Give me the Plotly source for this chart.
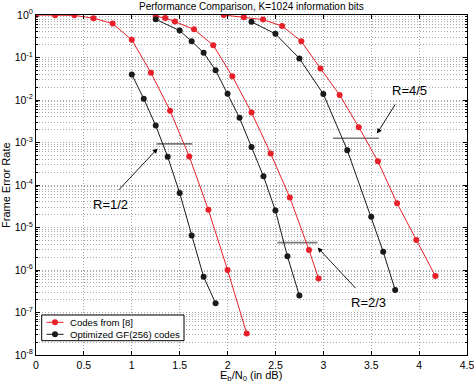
import plotly.graph_objects as go

# ---- data ----
red_half_x = [0.0, 0.2, 0.4, 0.6, 0.8, 1.0, 1.2, 1.4, 1.6, 1.8, 2.0, 2.2]
red_half_y = [1.0, 0.99, 0.98, 0.84, 0.63, 0.26, 0.044, 5.6e-3, 4.7e-4, 2.6e-5, 1.0e-6, 3.2e-8]

blk_half_x = [1.0, 1.125, 1.25, 1.375, 1.5, 1.625, 1.75, 1.875]
blk_half_y = [0.04, 0.0107, 2.5e-3, 4.6e-4, 6.5e-5, 6.5e-6, 6.9e-7, 1.66e-7]

red_23_x = [1.25, 1.35, 1.45, 1.65, 1.85, 2.05, 2.25, 2.45, 2.65, 2.85, 2.95]
red_23_y = [0.93, 0.85, 0.70, 0.46, 0.195, 0.036, 5.1e-3, 5.5e-4, 5.1e-5, 2.95e-6, 6.3e-7]

blk_23_x = [1.25, 1.5, 1.625, 1.75, 1.875, 2.0, 2.125, 2.25, 2.375, 2.5, 2.625, 2.75]
blk_23_y = [0.79, 0.43, 0.24, 0.13, 0.05, 0.014, 3.8e-3, 7.8e-4, 1.6e-4, 2.5e-5, 2.1e-6, 2.5e-7]

red_45_x = [1.96, 2.17, 2.37, 2.57, 2.77, 2.97, 3.17, 3.37, 3.57, 3.77, 3.97, 4.17]
red_45_y = [1.0, 0.89, 0.78, 0.55, 0.24, 0.055, 0.0132, 2.3e-3, 3.6e-4, 3.7e-5, 5.1e-6, 7.2e-7]

blk_45_x = [2.25, 2.5, 2.75, 3.0, 3.25, 3.5, 3.625, 3.75]
blk_45_y = [0.69, 0.36, 0.095, 0.0138, 6.6e-4, 1.8e-5, 2.7e-6, 3.4e-7]

# rate marker bars (horizontal gray segments)
bar_half_x = [1.26, 1.63]
bar_half_y = [9.3e-4, 9.3e-4]
bar_23_x = [2.52, 2.94]
bar_23_y = [4.4e-6, 4.4e-6]
bar_45_x = [3.10, 3.58]
bar_45_y = [1.26e-3, 1.26e-3]

rate_labels = ["R=1/2", "R=2/3", "R=4/5"]
series_names = ["Codes from [8]", "Optimized GF(256) codes"]

x_ticks = [0, 0.5, 1, 1.5, 2, 2.5, 3, 3.5, 4, 4.5]
x_ticktext = ["0", "0.5", "1", "1.5", "2", "2.5", "3", "3.5", "4", "4.5"]
y_exps = [0, -1, -2, -3, -4, -5, -6, -7, -8]

RED = "#e8202a"
BLK = "#1a1a1a"
GRAY = "#7a7a7a"
GRID = "#a8a8a8"
FONT = "Liberation Sans, Arial, sans-serif"

# plot-area geometry (pixels)
ML, MR, MT, MB = 36, 7, 15, 27
W, H = 474, 382
PW, PH = W - ML - MR, H - MT - MB


def px(xp):
    return (xp - ML) / PW


def py(yp):
    return (H - MB - yp) / PH


fig = go.Figure()

for (bx, by) in [(bar_half_x, bar_half_y), (bar_23_x, bar_23_y), (bar_45_x, bar_45_y)]:
    fig.add_trace(go.Scatter(x=bx, y=by, mode="lines", line=dict(color=GRAY, width=1.6),
                             showlegend=False, hoverinfo="skip"))

reds = [(red_half_x, red_half_y), (red_23_x, red_23_y), (red_45_x, red_45_y)]
blks = [(blk_half_x, blk_half_y), (blk_23_x, blk_23_y), (blk_45_x, blk_45_y)]
for i, (sx, sy) in enumerate(reds):
    fig.add_trace(go.Scatter(x=sx, y=sy, mode="lines+markers", name=series_names[0],
                             showlegend=False,
                             line=dict(color=RED, width=1),
                             marker=dict(color=RED, size=6)))
for i, (sx, sy) in enumerate(blks):
    fig.add_trace(go.Scatter(x=sx, y=sy, mode="lines+markers", name=series_names[1],
                             showlegend=False,
                             line=dict(color=BLK, width=1),
                             marker=dict(color=BLK, size=6)))

annots = []
arrow_specs = [
    # (head_x, head_log_y, tail_x, tail_log_y)
    (1.27, -3.14, 0.85, -4.15),
    (2.94, -5.47, 3.35, -6.46),
    (3.56, -2.79, 3.76, -2.07),
]
for hx, hy, tx, ty in arrow_specs:
    annots.append(dict(x=hx, y=hy, xref="x", yref="y", ax=tx, ay=ty, axref="x", ayref="y",
                       text="", showarrow=True, arrowhead=2, arrowsize=1.1, arrowwidth=0.9,
                       arrowcolor="black", standoff=0, startstandoff=0))
label_pos = [(0.78, -4.46), (3.47, -6.77), (3.90, -1.77)]
for (lx, ly), t in zip(label_pos, rate_labels):
    annots.append(dict(x=lx, y=ly, xref="x", yref="y", text=t, showarrow=False,
                       font=dict(family=FONT, size=13, color="black")))

# title and axis titles
annots.append(dict(x=px(251), y=py(6), xref="paper", yref="paper", showarrow=False,
                   text="Performance Comparison, K=1024 information bits",
                   xanchor="center", yanchor="middle", font=dict(family=FONT, size=10)))
annots.append(dict(x=px(251), y=py(375.5), xref="paper", yref="paper", showarrow=False,
                   text="E<sub>b</sub>/N<sub>0</sub> (in dB)",
                   xanchor="center", yanchor="middle", font=dict(family=FONT, size=11)))
annots.append(dict(x=px(6), y=py(185), xref="paper", yref="paper", showarrow=False,
                   text="Frame Error Rate", textangle=-90,
                   xanchor="center", yanchor="middle", font=dict(family=FONT, size=11)))

# manual legend (compact, like the reference)
shapes = [dict(type="rect", xref="paper", yref="paper",
               x0=px(41.7), x1=px(184), y0=py(340.7), y1=py(315),
               fillcolor="white", line=dict(color="black", width=1), layer="above")]
for name, col, yy in [(series_names[0], RED, 322.3), (series_names[1], BLK, 334.3)]:
    shapes.append(dict(type="line", xref="paper", yref="paper",
                       x0=px(46.5), x1=px(63.5), y0=py(yy), y1=py(yy),
                       line=dict(color=col, width=1), layer="above"))
    shapes.append(dict(type="circle", xref="paper", yref="paper",
                       x0=px(52), x1=px(58), y0=py(yy + 3), y1=py(yy - 3),
                       fillcolor=col, line=dict(color=col, width=0), layer="above"))
    annots.append(dict(x=px(68), y=py(yy), xref="paper", yref="paper", showarrow=False,
                       text=name, xanchor="left", yanchor="middle",
                       font=dict(family=FONT, size=9.6)))

fig.update_layout(
    width=W, height=H,
    margin=dict(l=ML, r=MR, t=MT, b=MB, autoexpand=False),
    paper_bgcolor="white", plot_bgcolor="white",
    font=dict(family=FONT, size=10, color="black"),
    showlegend=False,
    annotations=annots,
    shapes=shapes,
)

fig.update_xaxes(
    range=[0, 4.5], tickvals=x_ticks, ticktext=x_ticktext, automargin=False,
    ticklabeloverflow="allow", tickfont=dict(size=10.5),
    showline=True, linecolor="black", linewidth=1, mirror="allticks",
    ticks="inside", ticklen=4, tickcolor="black",
    showgrid=True, gridcolor=GRID, griddash="1px,2px", gridwidth=1,
    zeroline=False,
)
fig.update_yaxes(
    type="log", range=[-8, 0], automargin=False, tickfont=dict(size=10.5),
    tickvals=[10 ** e for e in y_exps],
    ticktext=["10<sup>%d</sup>" % e for e in y_exps],
    showline=True, linecolor="black", linewidth=1, mirror="allticks",
    ticks="inside", ticklen=4, tickcolor="black",
    showgrid=True, gridcolor=GRID, griddash="1px,2px", gridwidth=1,
    minor=dict(showgrid=True, gridcolor=GRID, griddash="1px,2px", gridwidth=1,
               ticks="inside", ticklen=2, tickcolor="black",
               tickvals=[m * 10 ** e for e in range(-8, 0) for m in range(2, 10)]),
    zeroline=False,
)

fig.write_html("out.html", config={"displayModeBar": False},
               post_script="document.body.style.margin='0';document.body.style.overflow='hidden';")
